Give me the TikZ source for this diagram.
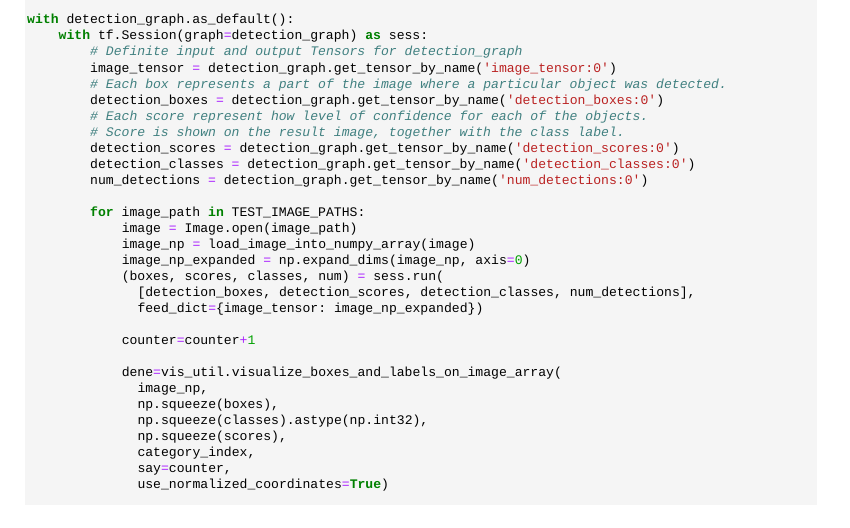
\documentclass[tikz,border=0pt]{standalone}
\usepackage{fontspec}
\setmonofont{Liberation Mono}
\definecolor{bgc}{HTML}{F5F5F5}
\definecolor{kwc}{HTML}{008000}
\definecolor{opc}{HTML}{AA22FF}
\definecolor{stc}{HTML}{BA2121}
\definecolor{cmc}{HTML}{408080}
\definecolor{nmc}{HTML}{00A000}
\newcommand{\kwd}[1]{\textcolor{kwc}{\bfseries #1}}
\newcommand{\opr}[1]{\textcolor{opc}{#1}}
\newcommand{\strg}[1]{\textcolor{stc}{#1}}
\newcommand{\cmt}[1]{\textcolor{cmc}{\itshape #1}}
\newcommand{\numb}[1]{\textcolor{nmc}{#1}}
\begin{document}
\begin{tikzpicture}[x=1pt,y=-1pt,
  codeline/.style={anchor=base west,inner sep=0pt,font=\ttfamily\fontsize{13.1}{16}\selectfont,text=black}]
\useasboundingbox (0,0) rectangle (850,527);
\fill[bgc] (25,0) rectangle (817,505);
\def\cx{27}\def\cw{7.88}
\newcommand{\codeln}[3]{\node[codeline] (l#1) at ({\cx+#2*\cw},{24+16*(#1-1)}) {#3};}
\codeln{1}{0}{\kwd{with} detection\_graph.as\_default():}
\codeln{2}{4}{\kwd{with} tf.Session(graph\opr{=}detection\_graph) \kwd{as} sess:}
\codeln{3}{8}{\cmt{\# Definite input and output Tensors for detection\_graph}}
\codeln{4}{8}{image\_tensor \opr{=} detection\_graph.get\_tensor\_by\_name(\strg{'image\_tensor:0'})}
\codeln{5}{8}{\cmt{\# Each box represents a part of the image where a particular object was detected.}}
\codeln{6}{8}{detection\_boxes \opr{=} detection\_graph.get\_tensor\_by\_name(\strg{'detection\_boxes:0'})}
\codeln{7}{8}{\cmt{\# Each score represent how level of confidence for each of the objects.}}
\codeln{8}{8}{\cmt{\# Score is shown on the result image, together with the class label.}}
\codeln{9}{8}{detection\_scores \opr{=} detection\_graph.get\_tensor\_by\_name(\strg{'detection\_scores:0'})}
\codeln{10}{8}{detection\_classes \opr{=} detection\_graph.get\_tensor\_by\_name(\strg{'detection\_classes:0'})}
\codeln{11}{8}{num\_detections \opr{=} detection\_graph.get\_tensor\_by\_name(\strg{'num\_detections:0'})}
\codeln{13}{8}{\kwd{for} image\_path \kwd{in} TEST\_IMAGE\_PATHS:}
\codeln{14}{12}{image \opr{=} Image.open(image\_path)}
\codeln{15}{12}{image\_np \opr{=} load\_image\_into\_numpy\_array(image)}
\codeln{16}{12}{image\_np\_expanded \opr{=} np.expand\_dims(image\_np, axis\opr{=}\numb{0})}
\codeln{17}{12}{(boxes, scores, classes, num) \opr{=} sess.run(}
\codeln{18}{14}{[detection\_boxes, detection\_scores, detection\_classes, num\_detections],}
\codeln{19}{14}{feed\_dict\opr{=}\{image\_tensor: image\_np\_expanded\})}
\codeln{21}{12}{counter\opr{=}counter\opr{+}\numb{1}}
\codeln{23}{12}{dene\opr{=}vis\_util.visualize\_boxes\_and\_labels\_on\_image\_array(}
\codeln{24}{14}{image\_np,}
\codeln{25}{14}{np.squeeze(boxes),}
\codeln{26}{14}{np.squeeze(classes).astype(np.int32),}
\codeln{27}{14}{np.squeeze(scores),}
\codeln{28}{14}{category\_index,}
\codeln{29}{14}{say\opr{=}counter,}
\codeln{30}{14}{use\_normalized\_coordinates\opr{=}\kwd{True})}
\end{tikzpicture}
\end{document}
